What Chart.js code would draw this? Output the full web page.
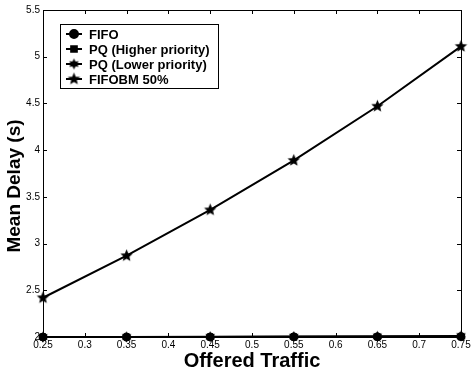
<!DOCTYPE html>
<html>
<head>
<meta charset="utf-8">
<script src="https://cdn.jsdelivr.net/npm/chart.js@4"></script>
<style>
  html, body { margin: 0; padding: 0; background: #fff; }
  #wrap { width: 474px; height: 373px; }
</style>
</head>
<body>
<div id="wrap"><canvas id="delayChart" width="474" height="373"></canvas></div>
<script>
// dados
const traffic = [0.25, 0.35, 0.45, 0.55, 0.65, 0.75];
const fifo = [2.0, 2.0, 2.001, 2.002, 2.003, 2.005];
const pqHigh = [2.0, 2.0, 2.0, 2.0, 2.0, 2.0];
const pqLow = [2.0, 2.001, 2.003, 2.005, 2.008, 2.012];
const fifobm = [2.42, 2.87, 3.36, 3.89, 4.47, 5.11];
const seriesLabels = ['FIFO', 'PQ (Higher priority)', 'PQ (Lower priority)', 'FIFOBM 50%'];

const FONT = '"Liberation Sans", Arial, Helvetica, sans-serif';

// marcadores desenhados à mão (estrelas preenchidas)
function makeStar(points, r, inner) {
    const size = Math.ceil(r * 2 + 2);
    const c = document.createElement('canvas');
    c.width = size; c.height = size;
    const g = c.getContext('2d');
    g.translate(size / 2, size / 2);
    g.beginPath();
    for (let i = 0; i < points * 2; i++) {
        const rad = i % 2 === 0 ? r : r * inner;
        const a = -Math.PI / 2 + i * Math.PI / points;
        const px = Math.cos(a) * rad, py = Math.sin(a) * rad;
        if (i === 0) g.moveTo(px, py); else g.lineTo(px, py);
    }
    g.closePath();
    g.fillStyle = '#000';
    g.fill();
    return c;
}
const pentagram = makeStar(5, 6.5, 0.45);
const hexagram = makeStar(6, 5.5, 0.55);

function toPoints(ys) {
    return traffic.map((x, i) => ({ x: x, y: ys[i] }));
}

// ticks para dentro, em todos os lados (estilo MATLAB)
const innerTicks = {
    id: 'innerTicks',
    afterDatasetsDraw(chart) {
        const ctx = chart.ctx;
        const a = chart.chartArea;
        const xs = chart.scales.x, ys = chart.scales.y;
        ctx.save();
        ctx.strokeStyle = '#000';
        ctx.lineWidth = 1;
        ctx.beginPath();
        xs.ticks.forEach(t => {
            const px = Math.round(xs.getPixelForValue(t.value)) + 0.5;
            ctx.moveTo(px, a.bottom); ctx.lineTo(px, a.bottom - 4);
            ctx.moveTo(px, a.top); ctx.lineTo(px, a.top + 4);
        });
        ys.ticks.forEach(t => {
            const py = Math.round(ys.getPixelForValue(t.value)) + 0.5;
            ctx.moveTo(a.left, py); ctx.lineTo(a.left + 4, py);
            ctx.moveTo(a.right, py); ctx.lineTo(a.right - 4, py);
        });
        ctx.stroke();
        ctx.strokeRect(Math.round(a.left) + 0.5, Math.round(a.top) + 0.5,
            Math.round(a.right - a.left), Math.round(a.bottom - a.top));
        ctx.restore();
    }
};

// título do eixo y desenhado à parte (um pouco abaixo do centro, como no original)
const yTitle = {
    id: 'yTitle',
    afterDraw(chart) {
        const ctx = chart.ctx;
        ctx.save();
        ctx.translate(15, 186);
        ctx.rotate(-Math.PI / 2);
        ctx.font = 'bold 19px ' + FONT;
        ctx.fillStyle = '#000';
        ctx.textAlign = 'center';
        ctx.textBaseline = 'middle';
        ctx.fillText('Mean Delay (s)', 0, 0);
        ctx.restore();
    }
};

// legenda dentro da área do gráfico
const boxLegend = {
    id: 'boxLegend',
    afterDraw(chart) {
        const ctx = chart.ctx;
        const x0 = 60, y0 = 24, w = 158, h = 64;
        ctx.save();
        ctx.fillStyle = '#fff';
        ctx.fillRect(x0, y0, w, h);
        ctx.strokeStyle = '#000';
        ctx.lineWidth = 1;
        ctx.strokeRect(x0 + 0.5, y0 + 0.5, w, h);
        ctx.font = 'bold 13px ' + FONT;
        ctx.textBaseline = 'middle';
        chart.data.datasets.forEach((ds, i) => {
            const cy = y0 + 10 + i * 15;
            ctx.strokeStyle = '#000';
            ctx.lineWidth = 2;
            ctx.beginPath();
            ctx.moveTo(x0 + 6, cy); ctx.lineTo(x0 + 22, cy);
            ctx.stroke();
            const st = ds.pointStyle;
            if (st instanceof HTMLCanvasElement) {
                ctx.drawImage(st, x0 + 14 - st.width / 2, cy - st.height / 2);
            } else {
                Chart.helpers.drawPoint(ctx, { pointStyle: st, radius: ds.pointRadius, borderWidth: 1 }, x0 + 14, cy);
                ctx.fillStyle = '#000';
                ctx.fill();
            }
            ctx.fillStyle = '#000';
            ctx.fillText(seriesLabels[i], x0 + 29, cy + 1);
        });
        ctx.restore();
    }
};

function makeDataset(i, ys, style, radius) {
    return {
        label: seriesLabels[i],
        data: toPoints(ys),
        borderColor: '#000',
        backgroundColor: '#000',
        borderWidth: 2,
        pointStyle: style,
        pointRadius: radius,
        pointHoverRadius: radius,
        pointBackgroundColor: '#000',
        pointBorderColor: '#000',
        pointBorderWidth: 1,
        clip: false,
        tension: 0
    };
}

new Chart(document.getElementById('delayChart'), {
    type: 'line',
    data: {
        datasets: [
            makeDataset(0, fifo, 'circle', 4),
            makeDataset(1, pqHigh, 'rect', 4),
            makeDataset(2, pqLow, hexagram, 5),
            makeDataset(3, fifobm, pentagram, 6)
        ]
    },
    options: {
        responsive: false,
        animation: false,
        layout: { padding: { top: 10, right: 13, left: 0, bottom: 0 } },
        plugins: {
            legend: { display: false },
            tooltip: { enabled: false }
        },
        scales: {
            x: {
                type: 'linear',
                min: 0.25,
                max: 0.75,
                ticks: {
                    stepSize: 0.05,
                    color: '#000',
                    padding: 2,
                    font: { family: FONT, size: 10 },
                    callback: v => String(Math.round(v * 100) / 100)
                },
                grid: { display: false, drawTicks: false },
                border: { display: false },
                title: {
                    display: true,
                    text: 'Offered Traffic',
                    color: '#000',
                    padding: { top: 0, bottom: 0 },
                    font: { family: FONT, size: 20, weight: 'bold' }
                },
                afterFit: s => { s.height = 36; }
            },
            y: {
                min: 2,
                max: 5.5,
                ticks: {
                    stepSize: 0.5,
                    color: '#000',
                    padding: 3,
                    font: { family: FONT, size: 10 },
                    callback: v => String(Math.round(v * 10) / 10)
                },
                grid: { display: false, drawTicks: false },
                border: { display: false },
                afterFit: s => { s.width = 43; }
            }
        }
    },
    plugins: [innerTicks, yTitle, boxLegend]
});
</script>
</body>
</html>
